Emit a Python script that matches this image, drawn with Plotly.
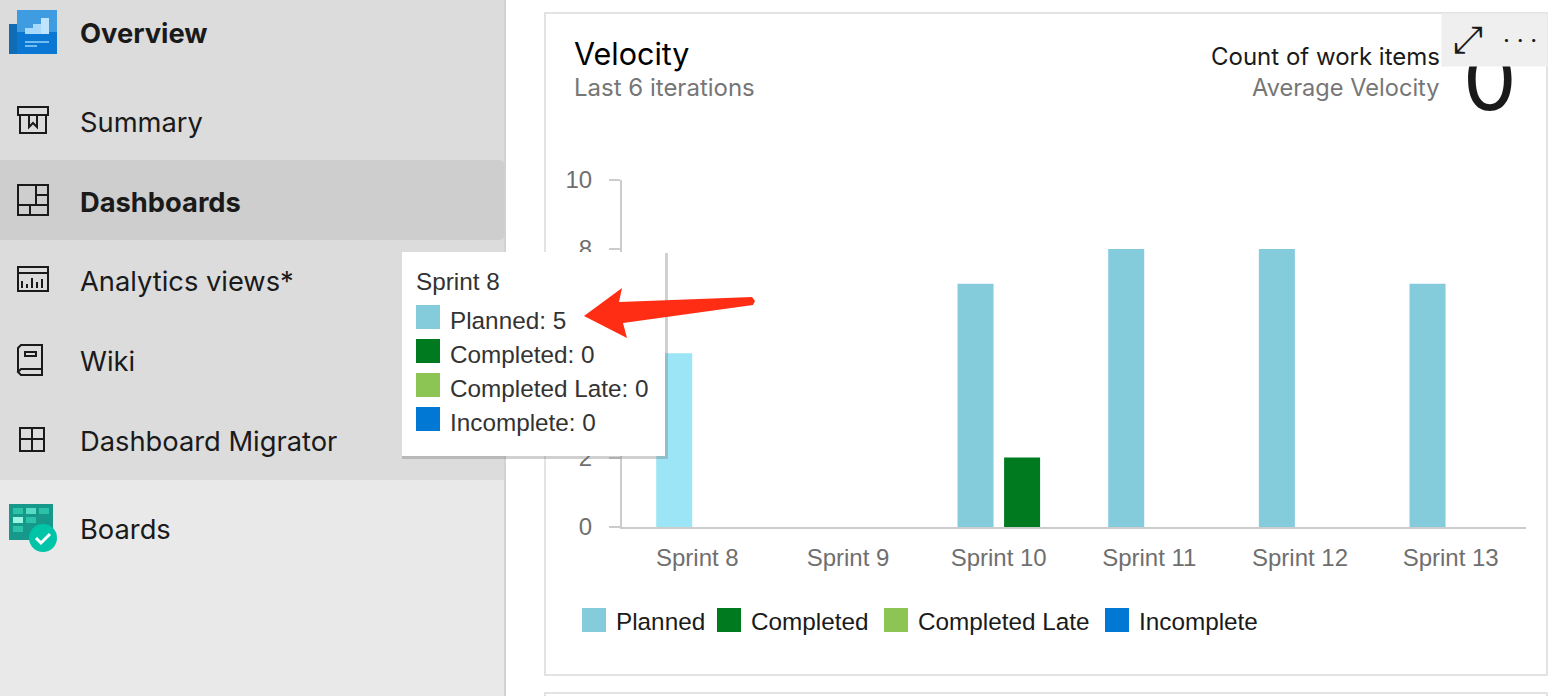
import plotly.graph_objects as go

W = 1564
H = 696

sprints = ["Sprint 8", "Sprint 9", "Sprint 10", "Sprint 11", "Sprint 12", "Sprint 13"]
planned = [5, 0, 7, 8, 8, 7]
completed = [0, 0, 2, 0, 0, 0]
completed_late = [0, 0, 0, 0, 0, 0]
incomplete = [0, 0, 0, 0, 0, 0]
y_ticks = [0, 2, 4, 6, 8, 10]

series_names = ["Planned", "Completed", "Completed Late", "Incomplete"]
series_colors = ["#84cbdc", "#007a1e", "#8cc553", "#0078d4"]
planned_colors = ["#9be5f6", "#84cbdc", "#84cbdc", "#84cbdc", "#84cbdc", "#84cbdc"]

tooltip_title = "Sprint 8"
tooltip_values = [5, 0, 0, 0]

menu_labels = ["Overview", "Summary", "Dashboards", "Analytics views*", "Wiki", "Dashboard Migrator", "Boards"]
menu_rows = [33, 122, 202, 281, 361, 441, 529]
menu_bold = ["Overview", "Dashboards"]

INK = "#1a1a1a"
UI_FONT = "Inter"
CHART_FONT = "Liberation Sans"


def px(x):
    return x / W


def py(y):
    return 1 - y / H


def rect(x0, y0, x1, y1, fill, layer="below", line=None, width=0):
    return dict(type="rect", xref="paper", yref="paper", layer=layer,
                x0=px(x0), y0=py(y0), x1=px(x1), y1=py(y1), fillcolor=fill,
                line=dict(color=line or fill, width=width))


def poly(points, color=None, fill=None, width=2, closed=False, layer="below"):
    d = "M" + " L".join(f"{px(a):.5f},{py(b):.5f}" for a, b in points)
    if closed:
        d += " Z"
    return dict(type="path", xref="paper", yref="paper", layer=layer, path=d,
                fillcolor=fill or "rgba(0,0,0,0)",
                line=dict(color=color or "rgba(0,0,0,0)", width=width if color else 0))


def circle(cx, cy, r, fill, layer="below"):
    return dict(type="circle", xref="paper", yref="paper", layer=layer,
                x0=px(cx - r), y0=py(cy - r), x1=px(cx + r), y1=py(cy + r),
                fillcolor=fill, line=dict(width=0))


def label(x, y, text, size, color=INK, anchor="left", family=UI_FONT, weight=None, **kw):
    font = dict(family=family, size=size, color=color)
    if weight:
        font["weight"] = weight
    return dict(xref="paper", yref="paper", x=px(x), y=py(y), text=text, showarrow=False,
                xanchor=anchor, yanchor="middle", font=font, borderpad=0, **kw)


fig = go.Figure()
fig.add_trace(go.Bar(x=sprints, y=planned, name=series_names[0], width=0.239, offset=-0.273,
                     marker=dict(color=planned_colors, line_width=0)))
for name, values, color in zip(series_names[1:], [completed, completed_late, incomplete], series_colors[1:]):
    fig.add_trace(go.Bar(x=sprints, y=values, name=name, width=0.239, offset=0.036,
                         marker=dict(color=color, line_width=0)))

shapes = []
# sidebar
shapes.append(rect(0, 0, 505, 480, "#dcdcdc"))
shapes.append(rect(0, 480, 504, 696, "#e9e9e9"))
shapes.append(rect(504, 0, 506, 696, "#d2d2d2"))
shapes.append(poly([(0, 160), (499, 160), (503, 161), (505, 165), (505, 235), (503, 239), (499, 240), (0, 240)],
                   fill="#cecece", closed=True))

# overview icon
shapes.append(rect(9, 24, 20, 54, "#0f6cb5"))
shapes.append(rect(17, 10, 57, 32, "#3f9ce0"))
shapes.append(rect(17, 32, 57, 54, "#0a78d2"))
shapes.append(rect(25, 28, 33, 34, "#a8d8fb"))
shapes.append(rect(33, 24, 41, 34, "#a8d8fb"))
shapes.append(rect(41, 18, 49, 34, "#c0e4fd"))
shapes.append(rect(25, 41, 49, 43, "#6fbdf2"))
shapes.append(rect(25, 45, 37, 47, "#6fbdf2"))

# summary icon
shapes.append(poly([(18, 107), (48, 107), (48, 115), (18, 115)], INK, closed=True))
shapes.append(poly([(20, 115), (20, 133), (46, 133), (46, 115)], INK))
shapes.append(poly([(29, 115), (29, 127), (33, 123), (37, 127), (37, 115)], INK))

# dashboards icon
shapes.append(poly([(18, 185), (48, 185), (48, 215), (18, 215)], INK, closed=True))
shapes.append(poly([(36, 185), (36, 205)], INK))
shapes.append(poly([(36, 195), (48, 195)], INK))
shapes.append(poly([(18, 205), (48, 205)], INK))
shapes.append(poly([(30, 205), (30, 215)], INK))

# analytics icon
shapes.append(poly([(18, 267), (48, 267), (48, 291), (18, 291)], INK, closed=True))
shapes.append(poly([(18, 273), (48, 273)], INK))
for bx, by in [(22, 281), (27, 284), (32, 278), (37, 282), (42, 279)]:
    shapes.append(poly([(bx, by), (bx, 288)], INK))

# wiki icon
shapes.append(poly([(18, 372), (18, 348), (21, 345), (42, 345), (42, 375), (21, 375), (18, 372), (21, 369), (42, 369)], INK))
shapes.append(poly([(25, 352), (36, 352), (36, 356), (25, 356)], INK, closed=True))

# migrator icon
shapes.append(poly([(20, 428), (44, 428), (44, 451), (20, 451)], INK, closed=True))
shapes.append(poly([(32, 428), (32, 451)], INK))
shapes.append(poly([(20, 439), (44, 439)], INK))

# boards icon
shapes.append(rect(9, 504, 53, 540, "#16998a"))
shapes.append(rect(13, 508, 23, 514, "#2cc2a8"))
shapes.append(rect(26, 508, 36, 514, "#55dcc2"))
shapes.append(rect(39, 508, 49, 514, "#2cc2a8"))
shapes.append(rect(13, 517, 23, 523, "#9af5e0"))
shapes.append(rect(26, 517, 36, 523, "#2cc2a8"))
shapes.append(rect(13, 526, 23, 532, "#2cc2a8"))
shapes.append(circle(43, 538, 14, "#00c4a8"))
shapes.append(poly([(36, 538), (41, 543), (50, 534)], "#ffffff", width=3))

# card
shapes.append(rect(546, 14, 1548, 676, "#e6e6e6"))
shapes.append(rect(545, 13, 1547, 675, "#ffffff", line="#e3e3e3", width=2))
shapes.append(rect(545, 693, 1547, 720, "#ffffff", line="#e3e3e3", width=2))

# chart legend swatches
legend_x = [582, 717, 884, 1105]
for sx, color in zip(legend_x, series_colors):
    shapes.append(rect(sx, 608, sx + 24, 632, color))

# tooltip
shapes.append(rect(402, 253, 668, 459, "rgba(120,120,120,0.35)", layer="above"))
shapes.append(rect(402, 252, 665, 456, "#ffffff", layer="above"))
for i, color in enumerate(series_colors):
    shapes.append(rect(416, 305 + 34 * i, 440, 329 + 34 * i, color, layer="above"))

# red arrow
shapes.append(poly([(584, 316), (622, 288), (619, 302), (752, 297), (755, 301), (753, 305), (623, 323), (627, 338)],
                   fill="#ff2d14", closed=True, layer="above"))

annotations = []
for text, row in zip(menu_labels, menu_rows):
    annotations.append(label(79, row, text, 27.3, weight=700 if text in menu_bold else 400))

annotations.append(label(573, 54, "Velocity", 30.5, color="#000000"))
annotations.append(label(573, 87, "Last 6 iterations", 24, color="#767676"))
annotations.append(label(1441, 57, "Count of work items", 24, anchor="right"))
annotations.append(label(1441, 87, "Average Velocity", 23.6, color="#767676", anchor="right"))
annotations.append(label(1490, 80, "0", 85, anchor="center"))

# toolbar goes after the big 0 so it hides its top
annotations.append(dict(xref="paper", yref="paper", x=px(1441), y=py(13), xanchor="left", yanchor="top",
                        text=" ", showarrow=False, width=105, height=52, bgcolor="#efefef", borderpad=0))
annotations.append(label(1468, 39, "⤢", 38, family="DejaVu Sans", anchor="center"))
annotations.append(label(1520, 40, "· · ·", 24, anchor="center"))

for sx, name in zip(legend_x, series_names):
    annotations.append(label(sx + 33, 621, name, 24.3, family=CHART_FONT))

annotations.append(label(415, 281, tooltip_title, 24.3, color="#333333", family=CHART_FONT))
for i, (name, value) in enumerate(zip(series_names, tooltip_values)):
    annotations.append(label(449, 320 + 34 * i, f"{name}: {value}", 24.3, color="#333333", family=CHART_FONT))

fig.update_layout(
    width=W, height=H,
    margin=dict(l=0, r=0, t=0, b=0, pad=0),
    paper_bgcolor="#ffffff",
    plot_bgcolor="rgba(0,0,0,0)",
    barmode="overlay",
    showlegend=False,
    font=dict(family=CHART_FONT),
    shapes=shapes,
    annotations=annotations,
    xaxis=dict(domain=[622 / W, 1526 / W], type="category", range=[-0.5, 5.5], showgrid=False, zeroline=False,
               showline=True, linecolor="#cccccc", linewidth=2, ticks="", ticklabelstandoff=8, automargin=False,
               tickfont=dict(family=CHART_FONT, size=24, color="#6f6f6f"), anchor="y"),
    yaxis=dict(domain=[(H - 527) / H, (H - 179.5) / H], range=[0, 10], tickvals=y_ticks, showgrid=False, zeroline=False,
               showline=True, linecolor="#cccccc", linewidth=2, ticks="outside", ticklen=11, tickwidth=2,
               tickcolor="#cccccc", ticklabelstandoff=12, automargin=False,
               tickfont=dict(family=CHART_FONT, size=24, color="#6f6f6f"), anchor="x"),
)

fig.write_html("out.html", config=dict(displayModeBar=False), post_script="document.body.style.margin='0';")
